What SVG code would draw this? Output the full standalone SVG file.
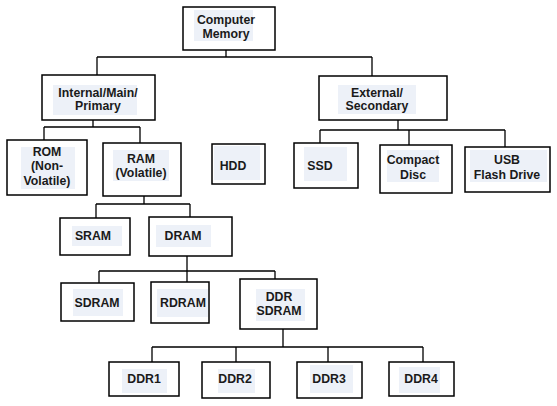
<svg xmlns="http://www.w3.org/2000/svg" width="557" height="406" viewBox="0 0 557 406">
<style>
.box{fill:#fff;stroke:#000;stroke-width:1.5}
.hl{fill:#edf1f8}
text{font-family:"Liberation Sans",Arial,sans-serif;font-weight:bold;font-size:12.3px;fill:#1a1a1a;text-anchor:middle}
.c{fill:none;stroke:#000;stroke-width:1.3}
</style>
<rect width="557" height="406" fill="#fff"/>
<g id="connectors">
<path class="c" d="M226,50V57M97,57H372M97,57V75M372,57V76"/>
<path class="c" d="M93,120V127M44,127H140M44,127V140M140,127V143"/>
<path class="c" d="M398,120V130M320,130H505M320,130V143M409,130V145M505,130V147"/>
<path class="c" d="M144,195V204M96,204H190M96,204V218M190,204V217"/>
<path class="c" d="M187,256V271M99,271H275M99,271V283M187,271V282M275,271V279"/>
<path class="c" d="M283,329V347M152,347H423M152,347V362M236,347V362M328,347V362M423,347V362"/>
</g>
<g id="computer-memory">
<rect class="box" x="183" y="7" width="92" height="43"/>
<rect class="hl" x="194" y="10" width="59" height="31"/>
<text x="226" y="24">Computer</text>
<text x="226" y="38">Memory</text>
</g>
<g id="internal">
<rect class="box" x="42" y="75" width="113" height="45"/>
<rect class="hl" x="53" y="85" width="84" height="30"/>
<text x="98" y="97">Internal/Main/</text>
<text x="98" y="110">Primary</text>
</g>
<g id="external">
<rect class="box" x="319" y="76" width="128" height="44"/>
<rect class="hl" x="338" y="85" width="78" height="29"/>
<text x="377" y="97">External/</text>
<text x="377" y="110">Secondary</text>
</g>
<g id="rom">
<rect class="box" x="7" y="140" width="80" height="55"/>
<rect class="hl" x="21" y="147" width="54" height="42"/>
<text x="47" y="156">ROM</text>
<text x="47" y="170">(Non-</text>
<text x="47" y="185">Volatile)</text>
</g>
<g id="ram">
<rect class="box" x="103" y="143" width="78" height="53"/>
<rect class="hl" x="113" y="150" width="56" height="31"/>
<text x="141" y="163">RAM</text>
<text x="141" y="177">(Volatile)</text>
</g>
<g id="hdd">
<rect class="box" x="212" y="144" width="53" height="40"/>
<rect class="hl" x="214" y="146" width="46" height="34"/>
<text x="233" y="170">HDD</text>
</g>
<g id="ssd">
<rect class="box" x="294" y="143" width="64" height="45"/>
<rect class="hl" x="304" y="147" width="43" height="34"/>
<text x="320" y="170">SSD</text>
</g>
<g id="compact-disc">
<rect class="box" x="380" y="145" width="72" height="48"/>
<rect class="hl" x="387" y="150" width="52" height="32"/>
<text x="413" y="164">Compact</text>
<text x="413" y="179">Disc</text>
</g>
<g id="usb">
<rect class="box" x="465" y="147" width="85" height="45"/>
<rect class="hl" x="470" y="150" width="77" height="32"/>
<text x="507" y="164">USB</text>
<text x="507" y="179">Flash Drive</text>
</g>
<g id="sram">
<rect class="box" x="60" y="218" width="70" height="37"/>
<rect class="hl" x="72" y="226" width="50" height="20"/>
<text x="93" y="240">SRAM</text>
</g>
<g id="dram">
<rect class="box" x="149" y="217" width="83" height="39"/>
<rect class="hl" x="156" y="225" width="55" height="22"/>
<text x="183" y="240">DRAM</text>
</g>
<g id="sdram">
<rect class="box" x="61" y="283" width="73" height="38"/>
<rect class="hl" x="73" y="289" width="50" height="27"/>
<text x="97" y="307">SDRAM</text>
</g>
<g id="rdram">
<rect class="box" x="151" y="282" width="58" height="41"/>
<rect class="hl" x="157" y="289" width="51" height="28"/>
<text x="183" y="307">RDRAM</text>
</g>
<g id="ddr-sdram">
<rect class="box" x="240" y="279" width="77" height="50"/>
<rect class="hl" x="256" y="289" width="49" height="32"/>
<text x="279" y="301">DDR</text>
<text x="279" y="315">SDRAM</text>
</g>
<g id="ddr1">
<rect class="box" x="109" y="362" width="70" height="34"/>
<rect class="hl" x="122" y="369" width="45" height="24"/>
<text x="144" y="383">DDR1</text>
</g>
<g id="ddr2">
<rect class="box" x="202" y="362" width="68" height="36"/>
<rect class="hl" x="218" y="369" width="37" height="24"/>
<text x="235" y="383">DDR2</text>
</g>
<g id="ddr3">
<rect class="box" x="297" y="362" width="65" height="36"/>
<rect class="hl" x="310" y="365" width="43" height="28"/>
<text x="329" y="383">DDR3</text>
</g>
<g id="ddr4">
<rect class="box" x="389" y="362" width="65" height="34"/>
<rect class="hl" x="399" y="367" width="41" height="26"/>
<text x="421" y="383">DDR4</text>
</g>
</svg>
